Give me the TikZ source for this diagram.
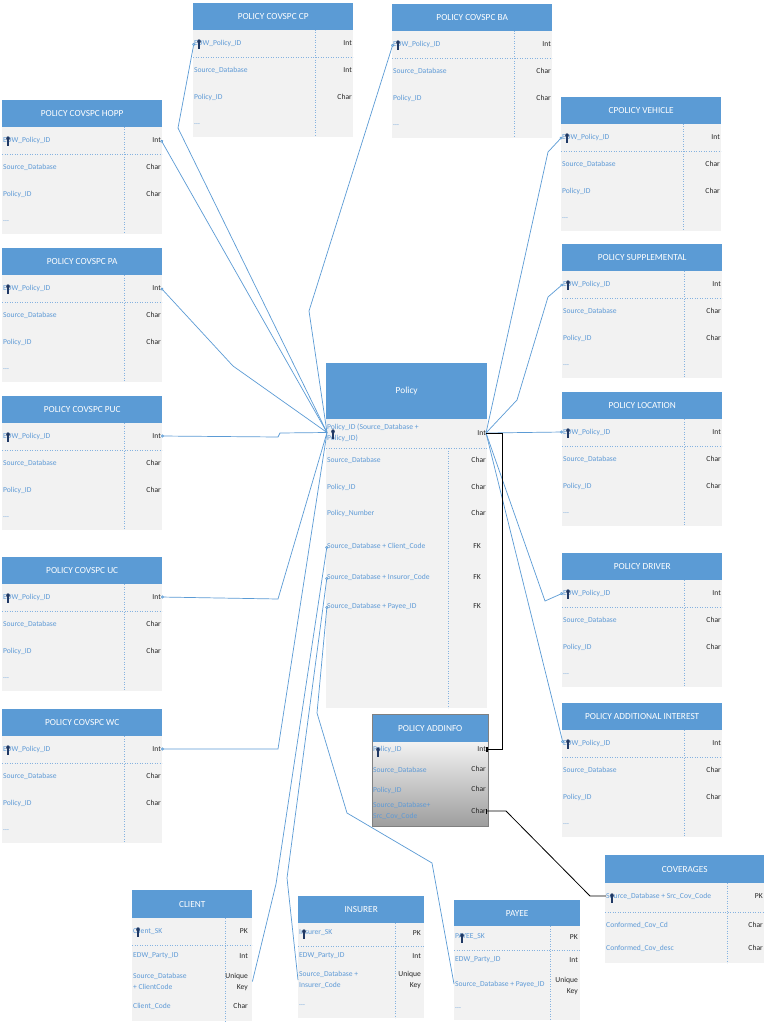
\documentclass[tikz,border=0pt]{standalone}
\usepackage{fontspec}
\setmainfont{Carlito}
\usepackage{tikz}
\usetikzlibrary{arrows.meta, positioning}

\definecolor{hdrblue}{HTML}{5B9BD5}
\definecolor{fldblue}{HTML}{5E9AD6}
\definecolor{bodygray}{HTML}{F2F2F2}
\definecolor{keyc}{HTML}{1F3864}
\definecolor{lnblue}{HTML}{5B9BD5}

\begin{document}
\begin{tikzpicture}[
    x=1pt, y=-1pt,
    hdr/.style={rectangle, fill=hdrblue, text=white, anchor=north west, inner sep=0pt, minimum width=160pt, minimum height=27pt, font=\fontsize{9.3}{10}\selectfont},
    tbl/.style={rectangle, fill=bodygray, anchor=north west, inner sep=0pt, minimum width=160pt, minimum height=107pt},
    fld/.style={anchor=west, inner sep=0pt, text=fldblue, align=left, font=\fontsize{7.6}{11}\selectfont},
    typ/.style={anchor=east, inner sep=0pt, text=black!85, align=right, font=\fontsize{7.6}{11}\selectfont},
    divline/.style={draw=fldblue!75, dotted, line width=0.5pt},
    rel/.style={draw=lnblue, line width=0.7pt, -{Circle[open, length=3pt]}},
    fk/.style={draw=lnblue, line width=0.7pt, {Circle[open, length=3pt]}-},
    link/.style={draw=black, line width=0.8pt},
    keyicon/.pic={
        \fill[keyc] (0,-2.5) ellipse (1.8pt and 2.2pt);
        \fill[keyc] (-0.9,-1) rectangle (0.9,5);
    }
]
    \fill[white] (0,0) rectangle (768,1024);
    \useasboundingbox (0,0) rectangle (768,1024);

    % Coverage tables
    \foreach \n/\ttl/\x/\y/\tb in {
        cp/POLICY COVSPC CP/193/3/Int,
        ba/POLICY COVSPC BA/392/4/Char,
        hopp/POLICY COVSPC HOPP/2/100/Char,
        veh/CPOLICY VEHICLE/561/97/Char,
        supp/POLICY SUPPLEMENTAL/562/244/Char,
        pa/POLICY COVSPC PA/2/248/Char,
        loc/POLICY LOCATION/562/392/Char,
        puc/POLICY COVSPC PUC/2/396/Char,
        drv/POLICY DRIVER/562/553/Char,
        uc/POLICY COVSPC UC/2/557/Char,
        addint/POLICY ADDITIONAL INTEREST/562/703/Char,
        wc/POLICY COVSPC WC/2/709/Char} {
        \node[hdr] (\n-h) at (\x,\y) {\ttl};
        \node[tbl] (\n-b) at (\x,\y+27) {};
        \draw[divline] (\x+122,\y+27) -- (\x+122,\y+134);
        \draw[divline] (\x,\y+54) -- (\x+160,\y+54);
        \node[fld] (\n-f1) at (\x+1,\y+40) {EDW\_Policy\_ID};
        \node[typ] (\n-t1) at (\x+159,\y+40) {Int};
        \node[fld] (\n-f2) at (\x+1,\y+67) {Source\_Database};
        \node[typ] (\n-t2) at (\x+159,\y+67) {\tb};
        \node[fld] (\n-f3) at (\x+1,\y+94) {Policy\_ID};
        \node[typ] (\n-t3) at (\x+159,\y+94) {Char};
        \node[fld] (\n-f4) at (\x+1,\y+121) {...};
        \pic at (\x+6,\y+41) {keyicon};
    }

    % Policy
    \node[hdr, minimum width=161pt, minimum height=56pt] (pol-h) at (326,363) {Policy};
    \node[tbl, minimum width=161pt, minimum height=289pt] (pol-b) at (326,419) {};
    \draw[divline] (326,448) -- (487,448);
    \draw[divline] (448,448) -- (448,708);
    \node[fld] (pol-f1) at (327,432.5) {Policy\_ID (Source\_Database +\\Policy\_ID)};
    \node[typ] (pol-t1) at (486,433) {Int};
    \node[fld] (pol-f2) at (327,460) {Source\_Database};
    \node[typ] (pol-t2) at (486,460) {Char};
    \node[fld] (pol-f3) at (327,487) {Policy\_ID};
    \node[typ] (pol-t3) at (486,487) {Char};
    \node[fld] (pol-f4) at (327,513) {Policy\_Number};
    \node[typ] (pol-t4) at (486,513) {Char};
    \node[fld] (pol-f5) at (327,546) {Source\_Database + Client\_Code};
    \node[typ] (pol-t5) at (481,546) {FK};
    \node[fld] (pol-f6) at (327,577) {Source\_Database + Insuror\_Code};
    \node[typ] (pol-t6) at (481,577) {FK};
    \node[fld] (pol-f7) at (327,606) {Source\_Database + Payee\_ID};
    \node[typ] (pol-t7) at (481,606) {FK};
    \pic at (333,434) {keyicon};

    % Policy addinfo
    \node[hdr, minimum width=116pt, minimum height=28pt] (ai-h) at (372,714) {POLICY ADDINFO};
    \node[tbl, minimum width=116pt, minimum height=84pt, top color=black!5, bottom color=black!38] (ai-b) at (372,742) {};
    \draw[black!50, line width=0.6pt] (ai-h.north west) rectangle (ai-b.south east);
    \node[fld] (ai-f1) at (373,749) {Policy\_ID};
    \node[typ] (ai-t1) at (486,749) {Int};
    \node[fld] (ai-f2) at (373,770) {Source\_Database};
    \node[typ] (ai-t2) at (486,769) {Char};
    \node[fld] (ai-f3) at (373,790) {Policy\_ID};
    \node[typ] (ai-t3) at (486,789) {Char};
    \node[fld] (ai-f4) at (373,810.5) {Source\_Database+\\Src\_Cov\_Code};
    \node[typ] (ai-t4) at (486,811) {Char};
    \pic at (378,752) {keyicon};

    % Coverages
    \node[hdr, minimum width=159pt, minimum height=28pt] (cov-h) at (605,855) {COVERAGES};
    \node[tbl, minimum width=159pt, minimum height=80pt] (cov-b) at (605,883) {};
    \draw[divline] (727,883) -- (727,963);
    \draw[divline] (605,912) -- (764,912);
    \node[fld] (cov-f1) at (606,896) {Source\_Database + Src\_Cov\_Code};
    \node[typ] (cov-t1) at (763,896) {PK};
    \node[fld] (cov-f2) at (606,925) {Conformed\_Cov\_Cd};
    \node[typ] (cov-t2) at (763,925) {Char};
    \node[fld] (cov-f3) at (606,948) {Conformed\_Cov\_desc};
    \node[typ] (cov-t3) at (763,948) {Char};
    \pic at (612,898) {keyicon};

    % Client
    \node[hdr, minimum width=120pt, minimum height=28pt] (cl-h) at (132,890) {CLIENT};
    \node[tbl, minimum width=120pt, minimum height=103pt] (cl-b) at (132,918) {};
    \draw[divline] (225,918) -- (225,1021);
    \draw[divline] (132,945) -- (252,945);
    \node[fld] (cl-f1) at (133,931) {Client\_SK};
    \node[typ] (cl-t1) at (248,931) {PK};
    \node[fld] (cl-f2) at (133,956) {EDW\_Party\_ID};
    \node[typ] (cl-t2) at (248,956) {Int};
    \node[fld] (cl-f3) at (133,981.5) {Source\_Database\\+ ClientCode};
    \node[typ] (cl-t3) at (248,981.5) {Unique\\Key};
    \node[fld] (cl-f4) at (133,1006) {Client\_Code};
    \node[typ] (cl-t4) at (248,1006) {Char};
    \pic at (138,932) {keyicon};

    % Insurer
    \node[hdr, minimum width=126pt, minimum height=27pt] (ins-h) at (298,896) {INSURER};
    \node[tbl, minimum width=126pt, minimum height=95pt] (ins-b) at (298,923) {};
    \draw[divline] (395,923) -- (395,1018);
    \draw[divline] (298,946) -- (424,946);
    \node[fld] (ins-f1) at (299,933) {Insurer\_SK};
    \node[typ] (ins-t1) at (421,933) {PK};
    \node[fld] (ins-f2) at (299,956) {EDW\_Party\_ID};
    \node[typ] (ins-t2) at (421,956) {Int};
    \node[fld] (ins-f3) at (299,980) {Source\_Database +\\Insurer\_Code};
    \node[typ] (ins-t3) at (421,980) {Unique\\Key};
    \node[fld] (ins-f4) at (299,1005) {...};
    \pic at (304,934) {keyicon};

    % Payee
    \node[hdr, minimum width=126pt, minimum height=26pt] (pay-h) at (454,900) {PAYEE};
    \node[tbl, minimum width=126pt, minimum height=94pt] (pay-b) at (454,926) {};
    \draw[divline] (550,926) -- (550,1020);
    \draw[divline] (454,950) -- (580,950);
    \node[fld] (pay-f1) at (455,937) {PAYEE\_SK};
    \node[typ] (pay-t1) at (578,937) {PK};
    \node[fld] (pay-f2) at (455,960) {EDW\_Party\_ID};
    \node[typ] (pay-t2) at (578,960) {Int};
    \node[fld] (pay-f3) at (455,984) {Source\_Database + Payee\_ID};
    \node[typ] (pay-t3) at (578,986) {Unique\\Key};
    \node[fld] (pay-f4) at (455,1008) {...};
    \pic at (462,938) {keyicon};

    % Relations, left side
    \draw[rel] (pol-f1.west) -- (178,128) -- (cp-f1.west);
    \draw[rel] (pol-f1.west) -- (309,311) -- (ba-f1.west);
    \draw[rel] (pol-f1.west) -- (hopp-t1.east);
    \draw[rel] (pol-f1.west) -- (233,366) -- (pa-t1.east);
    \draw[rel] (pol-f1.west) -- (280,433) -- (278,437) -- (puc-t1.east);
    \draw[rel] (pol-f1.west) -- (278,599) -- (uc-t1.east);
    \draw[rel] (pol-f1.west) -- (278,749) -- (wc-t1.east);

    % Relations, right side
    \draw[rel] (pol-t1.east) -- (548,152) -- (veh-f1.west);
    \draw[rel] (pol-t1.east) -- (517,400) -- (548,297) -- (supp-f1.west);
    \draw[rel] (pol-t1.east) -- (loc-f1.west);
    \draw[rel] (pol-t1.east) -- (545,601) -- (drv-f1.west);
    \draw[rel] (pol-t1.east) -- (addint-f1.west);
    \draw[link, -{Bar[width=5pt] Bar[width=5pt]}] (pol-t1.east) -- ++(16,0) |- (ai-t1.east);
    \draw[link, {Bar[width=5pt]}-] (ai-t4.east) -- ++(20,0) -- (590,896) -- (cov-f1.west);

    % Relations to parties
    \draw[fk] (pol-f5.west) -- (276,884) -- (cl-b.east |- cl-f3.west);
    \draw[fk] (pol-f6.west) -- (287,878) -- (ins-b.west |- ins-f3.west);
    \draw[fk] (pol-f7.west) -- (317,713) -- (347,813) -- (432,863) -- (pay-b.west |- pay-f3.west);
\end{tikzpicture}
\end{document}
